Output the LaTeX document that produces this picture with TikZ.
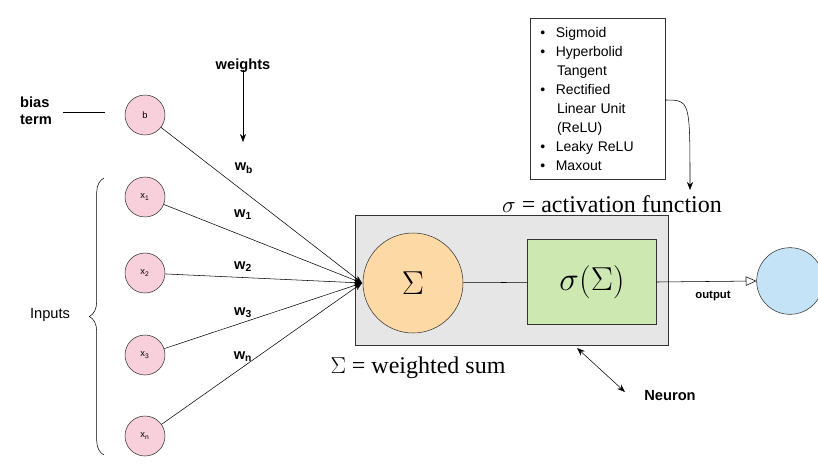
\documentclass[tikz,border=0pt]{standalone}
\usepackage{fontspec}
\setmainfont{Liberation Sans}
\newfontfamily\serifm{Liberation Serif}
\usetikzlibrary{arrows.meta,decorations.pathreplacing}
\definecolor{pinkc}{HTML}{F8D0DC}
\definecolor{orc}{HTML}{FDD9A6}
\definecolor{grc}{HTML}{CDE8B0}
\definecolor{blc}{HTML}{C5E3F6}
\definecolor{gyc}{HTML}{E6E6E6}
\begin{document}
\begin{tikzpicture}[x=0.75pt,y=-0.75pt,
 inp/.style={circle,draw=black!80,fill=pinkc,minimum size=30pt,inner sep=0pt,font=\fontsize{7}{8}\selectfont},
 bl/.style={font=\bfseries\fontsize{11}{13}\selectfont},
 wl/.style={font=\bfseries\fontsize{11}{13}\selectfont},
 mth/.style={font=\serifm\fontsize{18}{21}\selectfont}]
\useasboundingbox (0,0) rectangle (818,465);
\node[inp] (b) at (145,115) {b};
\node[inp] (x1) at (145,197) {x\textsubscript{1}};
\node[inp] (x2) at (145,273) {x\textsubscript{2}};
\node[inp] (x3) at (145,355) {x\textsubscript{3}};
\node[inp] (xn) at (145,436) {x\textsubscript{n}};
\node[bl,align=left] (bias) at (36,111) {bias\\term};
\coordinate (bl1) at (63,112); \coordinate (bl2) at (105,112);
\draw (bl1) -- (bl2);
\node[bl] (wt) at (243,66) {weights};
\coordinate (wa) at (243,142);
\draw[-{Stealth[length=6pt]}] (wt.south) ++(0,6pt) -- (wa);
\draw[decorate,decoration={brace,amplitude=11pt}] (104,455) -- (104,178);
\node[font=\fontsize{11}{13}\selectfont] (inputs) at (50,315) {Inputs};
\node[draw=black!80,fill=gyc,minimum width=234.75pt,minimum height=97.5pt,inner sep=0pt] (box) at (511.5,280) {};
\node[circle,draw=black!80,fill=orc,minimum size=75pt,inner sep=0pt,font=\fontsize{30}{34}\selectfont] (sum) at (413,283) {$\Sigma$};
\node[draw=black!80,fill=grc,minimum width=97pt,minimum height=64pt,inner sep=0pt,font=\fontsize{28}{32}\selectfont] (act) at (592,282) {$\sigma(\Sigma)$};
\draw (sum) -- (act);
\node[circle,draw=black!80,fill=blc,minimum size=50pt,inner sep=0pt] (out) at (790,281) {};
\draw[-{Triangle[open,length=8pt,width=7pt]}] (act.east) -- (out.west);
\node[font=\bfseries\fontsize{8.5}{10}\selectfont] (outl) at (713,296) {output};
\coordinate (tip) at (362,283);
\foreach \n in {b,x1,x2,x3,xn} \draw[-{Stealth[length=6pt]}] (\n) -- (tip);
\node[wl] (wb) at (244,168) {w\textsubscript{b}};
\node[wl] (w1) at (243,215) {w\textsubscript{1}};
\node[wl] (w2) at (243,267) {w\textsubscript{2}};
\node[wl] (w3) at (243,313) {w\textsubscript{3}};
\node[wl] (wn) at (243,357) {w\textsubscript{n}};
\node[mth] (ws) at (418,368) {$\Sigma$ = weighted sum};
\node[mth] (af) at (612,204) {$\sigma$ = activation function};
\node[draw=black!80,fill=white,minimum width=101pt,minimum height=121pt,inner sep=0pt] (lb) at (597.5,99) {};
\node[anchor=north west,font=\fontsize{10.5}{14.3}\selectfont,text width=95pt,align=left,inner sep=0pt] (lt) at (540,27)
 {\textbullet\hspace{8pt}Sigmoid\\
  \textbullet\hspace{8pt}Hyperbolid\\\hspace*{12.6pt}Tangent\\
  \textbullet\hspace{8pt}Rectified\\\hspace*{12.6pt}Linear Unit\\\hspace*{12.6pt}(ReLU)\\
  \textbullet\hspace{8pt}Leaky ReLU\\
  \textbullet\hspace{8pt}Maxout};
\coordinate (cs) at (665,100); \coordinate (ce) at (690,190);
\draw[-{Stealth[length=6pt]}] (cs) .. controls (690,100) .. (ce);
\coordinate (n1) at (577,348); \coordinate (n2) at (625,392);
\draw[{Stealth[length=6pt]}-{Stealth[length=6pt]}] (n1) -- (n2);
\node[bl] (neu) at (670,396) {Neuron};
\end{tikzpicture}
\end{document}
